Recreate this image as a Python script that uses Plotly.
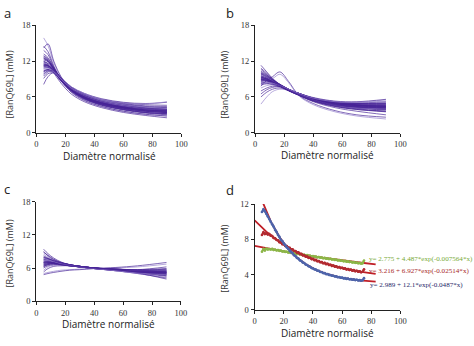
import math
import plotly.graph_objects as go

W, H = 474, 346

# ---------------- panel a : individual cell profiles ----------------
xa = [5, 8, 12, 17, 24, 33, 45, 60, 75, 90]
cells_a = [
    [11.3, 11.2, 10.3, 8.9, 7.3, 6.1, 5.1, 4.4, 3.9, 3.6],
    [12.5, 12.0, 10.6, 9.0, 7.2, 5.9, 4.9, 4.2, 3.7, 3.4],
    [13.8, 13.1, 11.0, 9.0, 7.1, 5.7, 4.7, 3.9, 3.4, 3.1],
    [15.9, 14.6, 11.7, 9.2, 7.0, 5.5, 4.4, 3.6, 3.1, 2.8],
    [10.4, 10.6, 10.1, 8.9, 7.4, 6.3, 5.4, 4.8, 4.4, 4.2],
    [9.1, 9.9, 10.0, 9.0, 7.6, 6.5, 5.6, 5.0, 4.7, 4.6],
    [8.1, 9.4, 10.1, 9.2, 7.7, 6.6, 5.7, 5.1, 4.9, 5.1],
    [11.0, 11.0, 10.3, 8.7, 6.9, 5.6, 4.6, 3.8, 3.3, 3.0],
    [12.0, 11.6, 10.5, 8.9, 7.2, 5.9, 4.9, 4.2, 3.8, 3.6],
    [10.0, 10.3, 10.0, 8.8, 7.3, 6.2, 5.3, 4.6, 4.2, 4.0],
    [14.5, 13.6, 11.2, 8.8, 6.8, 5.4, 4.4, 3.6, 3.1, 2.8],
    [11.8, 11.4, 10.4, 9.0, 7.4, 6.2, 5.2, 4.5, 4.0, 3.8],
    [10.8, 10.9, 10.3, 9.0, 7.5, 6.3, 5.3, 4.6, 4.1, 3.9],
    [12.8, 12.2, 10.7, 8.8, 7.0, 5.8, 4.8, 4.1, 3.6, 3.4],
    [9.8, 10.4, 10.2, 9.1, 7.6, 6.4, 5.5, 4.9, 4.5, 4.4],
    [11.2, 11.1, 10.2, 8.6, 7.0, 5.8, 4.8, 4.0, 3.5, 3.2],
    [13.2, 12.6, 10.8, 9.0, 7.1, 5.8, 4.8, 4.1, 3.6, 3.4],
    [11.6, 11.3, 10.5, 9.2, 7.6, 6.4, 5.4, 4.7, 4.2, 4.0],
    [10.3, 10.6, 10.2, 8.9, 7.2, 6.0, 5.0, 4.3, 3.9, 3.7],
    [12.2, 11.9, 10.7, 9.1, 7.3, 6.1, 5.1, 4.3, 3.9, 3.7],
    [11.4, 11.2, 10.0, 8.3, 6.5, 5.2, 4.2, 3.4, 2.9, 2.5],
    [10.9, 11.0, 10.4, 9.2, 7.7, 6.6, 5.6, 5.0, 4.8, 5.2],
    [12.6, 12.1, 10.8, 9.1, 7.3, 6.0, 5.0, 4.2, 3.8, 3.6],
    [9.5, 10.2, 10.2, 9.1, 7.5, 6.3, 5.3, 4.6, 4.1, 3.9],
    [11.9, 11.6, 10.6, 9.0, 7.3, 6.1, 5.1, 4.4, 4.0, 3.9],
    [14.2, 14.9, 12.0, 9.4, 7.2, 5.8, 4.7, 3.9, 3.4, 3.2],
    [11.1, 11.0, 10.2, 8.7, 7.1, 5.8, 4.8, 4.0, 3.6, 3.4],
    [10.6, 10.8, 10.3, 9.0, 7.4, 6.2, 5.2, 4.5, 4.0, 3.8],
    [12.4, 12.0, 10.7, 9.0, 7.2, 5.9, 4.9, 4.2, 3.8, 3.7],
    [11.3, 11.2, 10.4, 9.0, 7.5, 6.3, 5.3, 4.7, 4.3, 4.2],
    [10.2, 10.5, 10.1, 8.7, 7.0, 5.7, 4.6, 3.9, 3.4, 3.2],
    [12.9, 12.4, 10.9, 9.1, 7.4, 6.1, 5.1, 4.4, 4.0, 3.8],
    [11.5, 11.3, 10.3, 8.8, 7.1, 5.9, 4.9, 4.1, 3.7, 3.5],
    [9.9, 10.3, 10.2, 9.0, 7.5, 6.4, 5.4, 4.7, 4.3, 4.1],
]

# ---------------- panel b ----------------
xb = [4, 8, 12, 17, 23, 30, 40, 55, 70, 90]
cells_b = [
    [9.0, 8.8, 8.4, 7.9, 7.2, 6.5, 5.6, 4.8, 4.5, 4.2],
    [11.3, 10.2, 9.1, 8.1, 7.1, 6.3, 5.4, 4.6, 4.2, 3.9],
    [10.6, 9.8, 8.9, 8.0, 7.1, 6.4, 5.5, 4.7, 4.3, 4.0],
    [4.8, 6.0, 6.9, 7.3, 7.1, 6.6, 5.8, 5.1, 4.9, 5.0],
    [6.0, 6.8, 7.3, 7.5, 7.1, 6.5, 5.7, 5.0, 4.8, 4.8],
    [8.2, 8.3, 8.1, 7.8, 7.2, 6.6, 5.8, 5.1, 4.9, 4.9],
    [9.6, 9.2, 8.6, 7.9, 7.1, 6.4, 5.4, 4.5, 4.1, 3.8],
    [8.6, 8.7, 8.5, 8.1, 7.3, 6.5, 5.5, 4.6, 4.2, 3.9],
    [10.0, 9.5, 8.8, 8.0, 7.2, 6.5, 5.6, 4.9, 4.6, 4.5],
    [7.5, 7.9, 8.0, 7.8, 7.2, 6.6, 5.8, 5.2, 5.1, 5.5],
    [9.3, 9.0, 8.5, 7.8, 7.0, 6.3, 5.3, 4.4, 3.9, 3.5],
    [8.9, 8.8, 8.4, 7.8, 7.1, 6.4, 5.6, 5.0, 4.8, 4.8],
    [10.3, 9.7, 8.9, 8.0, 7.1, 6.4, 5.5, 4.7, 4.3, 4.1],
    [9.8, 9.3, 8.7, 8.0, 7.2, 6.5, 5.7, 5.0, 4.7, 4.6],
    [7.0, 7.5, 7.8, 7.7, 7.2, 6.6, 5.9, 5.3, 5.2, 5.6],
    [8.4, 8.5, 8.3, 7.9, 7.2, 6.5, 5.6, 4.8, 4.4, 4.3],
    [9.2, 9.0, 8.6, 8.0, 7.3, 6.6, 5.7, 4.9, 4.6, 4.4],
    [8.0, 8.2, 8.1, 7.8, 7.2, 6.5, 5.6, 4.9, 4.6, 4.5],
    [9.5, 9.2, 8.7, 8.0, 7.2, 6.5, 5.6, 4.8, 4.4, 4.2],
    [8.8, 8.9, 8.6, 8.1, 7.3, 6.5, 5.5, 4.5, 4.0, 3.6],
    [7.8, 8.8, 9.4, 10.2, 8.6, 6.3, 4.9, 3.7, 3.0, 2.6],
    [8.5, 8.9, 9.1, 9.8, 8.4, 6.2, 4.7, 3.5, 2.8, 2.3],
    [9.4, 9.0, 8.5, 7.9, 7.1, 6.3, 5.2, 4.2, 3.6, 3.0],
    [10.8, 10.0, 9.0, 8.1, 7.2, 6.4, 5.6, 4.9, 4.6, 4.5],
    [8.7, 8.7, 8.4, 7.9, 7.2, 6.5, 5.7, 5.0, 4.7, 4.7],
    [9.1, 8.9, 8.5, 7.9, 7.2, 6.6, 5.8, 5.2, 5.0, 5.2],
    [8.3, 8.5, 8.3, 7.9, 7.3, 6.6, 5.7, 5.0, 4.6, 4.4],
    [9.7, 9.3, 8.7, 8.0, 7.2, 6.4, 5.5, 4.6, 4.2, 4.0],
    [6.5, 7.2, 7.6, 7.7, 7.2, 6.6, 5.8, 5.1, 4.9, 5.0],
    [9.9, 9.4, 8.8, 8.0, 7.1, 6.3, 5.3, 4.4, 3.9, 3.6],
    [8.9, 8.7, 8.3, 7.8, 7.1, 6.4, 5.5, 4.7, 4.4, 4.4],
    [10.1, 9.6, 8.9, 8.1, 7.3, 6.6, 5.7, 4.9, 4.5, 4.3],
    [9.0, 9.0, 8.6, 8.0, 7.3, 6.6, 5.7, 4.8, 4.3, 4.1],
    [8.1, 8.4, 8.3, 7.9, 7.3, 6.6, 5.8, 5.2, 5.1, 5.3],
    [9.3, 9.1, 8.6, 7.9, 7.1, 6.3, 5.4, 4.6, 4.3, 4.2],
]

# ---------------- panel c ----------------
xc = [5, 8, 12, 17, 23, 30, 40, 55, 70, 90]
cells_c = [
    [7.0, 7.1, 7.0, 6.7, 6.5, 6.3, 6.0, 5.7, 5.4, 5.1],
    [9.4, 8.6, 7.8, 7.1, 6.6, 6.3, 6.0, 5.6, 5.2, 4.6],
    [8.8, 8.3, 7.6, 7.0, 6.6, 6.3, 6.0, 5.6, 5.2, 4.8],
    [5.0, 5.2, 5.4, 5.6, 5.7, 5.8, 5.9, 6.0, 6.2, 6.7],
    [4.8, 5.0, 5.2, 5.4, 5.6, 5.7, 5.9, 6.1, 6.4, 7.0],
    [6.2, 6.6, 6.8, 6.7, 6.5, 6.3, 6.0, 5.7, 5.5, 5.3],
    [7.5, 7.5, 7.2, 6.8, 6.5, 6.2, 5.9, 5.5, 5.1, 4.5],
    [6.6, 6.8, 6.9, 6.7, 6.5, 6.3, 6.0, 5.7, 5.4, 5.2],
    [8.2, 7.8, 7.3, 6.9, 6.6, 6.3, 6.0, 5.7, 5.4, 5.2],
    [5.6, 6.2, 6.5, 6.5, 6.4, 6.2, 6.0, 5.8, 5.6, 5.6],
    [7.2, 7.2, 7.0, 6.7, 6.4, 6.2, 5.9, 5.5, 5.0, 4.2],
    [6.9, 7.0, 6.9, 6.7, 6.5, 6.3, 6.0, 5.7, 5.5, 5.4],
    [7.8, 7.6, 7.3, 6.9, 6.6, 6.3, 6.0, 5.6, 5.2, 4.9],
    [6.4, 6.7, 6.8, 6.6, 6.4, 6.2, 6.0, 5.8, 5.6, 5.7],
    [7.4, 7.3, 7.1, 6.8, 6.5, 6.2, 5.9, 5.6, 5.3, 5.1],
    [8.5, 8.0, 7.4, 6.9, 6.5, 6.2, 5.9, 5.5, 5.0, 4.3],
    [6.8, 7.0, 7.0, 6.8, 6.5, 6.3, 6.0, 5.7, 5.5, 5.5],
    [7.1, 7.2, 7.1, 6.8, 6.5, 6.2, 5.9, 5.6, 5.3, 5.0],
    [6.0, 6.4, 6.6, 6.6, 6.4, 6.2, 6.0, 5.8, 5.7, 5.9],
    [7.6, 7.4, 7.1, 6.8, 6.5, 6.3, 6.0, 5.7, 5.4, 5.3],
    [6.5, 6.8, 6.9, 6.8, 6.5, 6.3, 6.0, 5.6, 5.2, 4.7],
    [7.3, 7.3, 7.1, 6.8, 6.5, 6.3, 6.0, 5.7, 5.5, 5.6],
    [9.0, 8.2, 7.5, 7.0, 6.6, 6.3, 6.0, 5.6, 5.1, 4.0],
    [6.7, 6.9, 6.9, 6.7, 6.4, 6.2, 5.9, 5.6, 5.4, 5.3],
    [7.9, 7.7, 7.3, 6.9, 6.6, 6.3, 6.0, 5.8, 5.6, 5.8],
    [5.3, 5.9, 6.3, 6.4, 6.4, 6.2, 6.0, 5.8, 5.7, 6.2],
    [7.0, 7.1, 7.0, 6.8, 6.5, 6.2, 5.9, 5.6, 5.3, 5.1],
    [7.7, 7.5, 7.2, 6.8, 6.5, 6.2, 5.9, 5.5, 5.1, 4.8],
    [6.3, 6.6, 6.7, 6.6, 6.4, 6.2, 6.0, 5.8, 5.6, 5.5],
    [8.0, 7.7, 7.3, 6.9, 6.6, 6.3, 6.0, 5.7, 5.3, 4.9],
]

# ---------------- panel d : averaged profiles and exponential fits ----------------
x_mean = list(range(5, 76))
mean_blue = [
    11.1, 11.4, 11.2, 10.9, 10.6, 10.3, 10.0, 9.7, 9.45, 9.05,
    8.85, 8.5, 8.3, 7.95, 7.8, 7.5, 7.35, 7.1, 6.95, 6.7,
    6.55, 6.42, 6.2, 6.1, 5.9, 5.82, 5.62, 5.55, 5.38, 5.32,
    5.15, 5.1, 4.95, 4.9, 4.76, 4.72, 4.6, 4.57, 4.45, 4.43,
    4.3, 4.3, 4.18, 4.17, 4.06, 4.07, 3.97, 3.96, 3.87, 3.88,
    3.79, 3.8, 3.71, 3.73, 3.64, 3.66, 3.58, 3.6, 3.52, 3.55,
    3.47, 3.5, 3.42, 3.46, 3.38, 3.42, 3.35, 3.38, 3.31, 3.36,
    3.6,
]
mean_red = [
    8.5, 8.8, 8.6, 8.7, 8.55, 8.6, 8.42, 8.38, 8.15, 8.12,
    7.92, 7.9, 7.68, 7.66, 7.46, 7.45, 7.25, 7.24, 7.05, 7.05,
    6.86, 6.86, 6.68, 6.68, 6.5, 6.52, 6.34, 6.35, 6.19, 6.2,
    6.04, 6.06, 5.9, 5.92, 5.76, 5.79, 5.64, 5.67, 5.52, 5.55,
    5.4, 5.44, 5.29, 5.33, 5.19, 5.23, 5.09, 5.13, 4.99, 5.04,
    4.9, 4.95, 4.82, 4.87, 4.74, 4.79, 4.66, 4.71, 4.59, 4.64,
    4.52, 4.57, 4.45, 4.51, 4.39, 4.45, 4.33, 4.39, 4.27, 4.33,
    4.6,
]
mean_green = [
    6.6, 6.9, 6.75, 6.95, 6.85, 6.9, 6.85, 6.92, 6.8, 6.84,
    6.75, 6.8, 6.7, 6.72, 6.62, 6.66, 6.58, 6.6, 6.51, 6.55,
    6.46, 6.5, 6.4, 6.43, 6.33, 6.37, 6.29, 6.32, 6.23, 6.26,
    6.18, 6.21, 6.12, 6.15, 6.06, 6.1, 6.02, 6.05, 5.96, 6.0,
    5.92, 5.95, 5.86, 5.9, 5.81, 5.85, 5.76, 5.8, 5.71, 5.75,
    5.67, 5.7, 5.61, 5.65, 5.57, 5.6, 5.52, 5.56, 5.47, 5.51,
    5.43, 5.46, 5.38, 5.42, 5.34, 5.37, 5.29, 5.33, 5.25, 5.28,
    5.6,
]

# fitted model y = a + b*exp(-k*x), order: green, red, blue
fit_a = [2.775, 3.216, 2.989]
fit_b = [4.487, 6.927, 12.1]
fit_k = [0.007564, 0.02514, 0.0487]
fit_xmax = 83

series_colors = ["rgb(140,182,72)", "rgb(178,42,48)", "rgb(78,100,170)"]
label_colors = ["rgb(120,170,55)", "rgb(168,40,40)", "rgb(40,40,105)"]
fit_color = "rgb(192,32,40)"

PURPLE = "rgba(70,34,150,0.85)"
LAVENDER = "rgba(150,130,205,0.85)"


def px(x):
    return x / W


def py(y):
    return 1 - y / H


fig = go.Figure()


def add_cells(xs, cells, ax):
    for i, ys in enumerate(cells):
        col = LAVENDER if i % 6 == 3 else PURPLE
        fig.add_trace(go.Scatter(
            x=xs, y=ys, mode="lines",
            line=dict(color=col, width=0.8, shape="spline", smoothing=1.0),
            xaxis="x" + ax, yaxis="y" + ax, hoverinfo="skip", showlegend=False))


add_cells(xa, cells_a, "")
add_cells(xb, cells_b, "2")
add_cells(xc, cells_c, "3")

# fit curves (drawn first so the data sit on top)
xf = [i * 0.5 for i in range(0, fit_xmax * 2 + 1)]
for a, b, k in zip(fit_a, fit_b, fit_k):
    fig.add_trace(go.Scatter(
        x=xf, y=[a + b * math.exp(-k * v) for v in xf], mode="lines",
        line=dict(color=fit_color, width=1.8),
        xaxis="x4", yaxis="y4", hoverinfo="skip", showlegend=False))

for ys, col in zip([mean_green, mean_red, mean_blue], series_colors):
    fig.add_trace(go.Scatter(
        x=x_mean, y=ys, mode="lines+markers",
        line=dict(color=col, width=2.2),
        marker=dict(color=col, size=2.6, symbol="circle"),
        xaxis="x4", yaxis="y4", hoverinfo="skip", showlegend=False))

tick_font = dict(family="Liberation Serif, serif", size=8.5, color="#333")
axis_common = dict(showline=True, linecolor="#222", linewidth=1.3,
                   ticks="outside", ticklen=3, tickwidth=1, tickcolor="#222",
                   showgrid=False, zeroline=False, tickfont=tick_font,
                   fixedrange=True)

x_ticks = [0, 20, 40, 60, 80, 100]
y_ticks_abc = [0, 6, 12, 18]
y_ticks_d = [0, 4, 8, 12]

dom_x_left = [px(35), px(182.5)]
dom_x_right = [px(257.5), px(405.3)]

fig.update_layout(
    width=W, height=H, autosize=False,
    margin=dict(l=0, r=0, t=0, b=0),
    paper_bgcolor="white", plot_bgcolor="white",
    xaxis=dict(domain=dom_x_left, range=[0, 100], tickvals=x_ticks, anchor="y", **axis_common),
    yaxis=dict(domain=[py(131.5), py(21)], range=[0, 18], tickvals=y_ticks_abc, anchor="x", **axis_common),
    xaxis2=dict(domain=dom_x_right, range=[0, 100], tickvals=x_ticks, anchor="y2", **axis_common),
    yaxis2=dict(domain=[py(131.5), py(21)], range=[0, 18], tickvals=y_ticks_abc, anchor="x2", **axis_common),
    xaxis3=dict(domain=[px(35), px(182)], range=[0, 100], tickvals=x_ticks, anchor="y3", **axis_common),
    yaxis3=dict(domain=[py(305), py(202.5)], range=[0, 18], tickvals=y_ticks_abc, anchor="x3", **axis_common),
    xaxis4=dict(domain=[px(257), px(405.3)], range=[0, 100], tickvals=x_ticks, anchor="y4", **axis_common),
    yaxis4=dict(domain=[py(314), py(205)], range=[0, 12], tickvals=y_ticks_d, anchor="x4", **axis_common),
)

annotations = []
sans = "Open Sans, Noto Sans, sans-serif"

# panel letters
for letter, x, y in [("a", 6, 8), ("b", 232, 8), ("c", 5, 189), ("d", 232, 190)]:
    annotations.append(dict(text=letter, x=px(x), y=py(y), xref="paper", yref="paper",
                            xanchor="center", yanchor="middle", showarrow=False,
                            font=dict(family=sans, size=13, color="#222")))

# x titles
for x, y in [(109, 155), (331, 154), (108.5, 328), (331, 338)]:
    annotations.append(dict(text="Diamètre normalisé", x=px(x), y=py(y), xref="paper", yref="paper",
                            xanchor="center", yanchor="middle", showarrow=False,
                            font=dict(family=sans, size=10, color="#222")))

# y titles
for x, y in [(8, 82), (226, 82), (8, 256), (226, 261)]:
    annotations.append(dict(text="[RanQ69L] (mM)", x=px(x), y=py(y), xref="paper", yref="paper",
                            xanchor="center", yanchor="middle", showarrow=False, textangle=-90,
                            font=dict(family=sans, size=9, color="#333")))

# fit equations
eq_pos = [(77.0, 5.74), (77.0, 4.37), (78.0, 2.81)]
for (x, y), a, b, k, col in zip(eq_pos, fit_a, fit_b, fit_k, label_colors):
    annotations.append(dict(text=f"y= {a} + {b}*exp(-{k}*x)", x=x, y=y, xref="x4", yref="y4",
                            xanchor="left", yanchor="middle", showarrow=False,
                            font=dict(family="Liberation Serif, serif", size=7.1, color=col)))

fig.update_layout(annotations=annotations)

fig.write_html("out.html")
